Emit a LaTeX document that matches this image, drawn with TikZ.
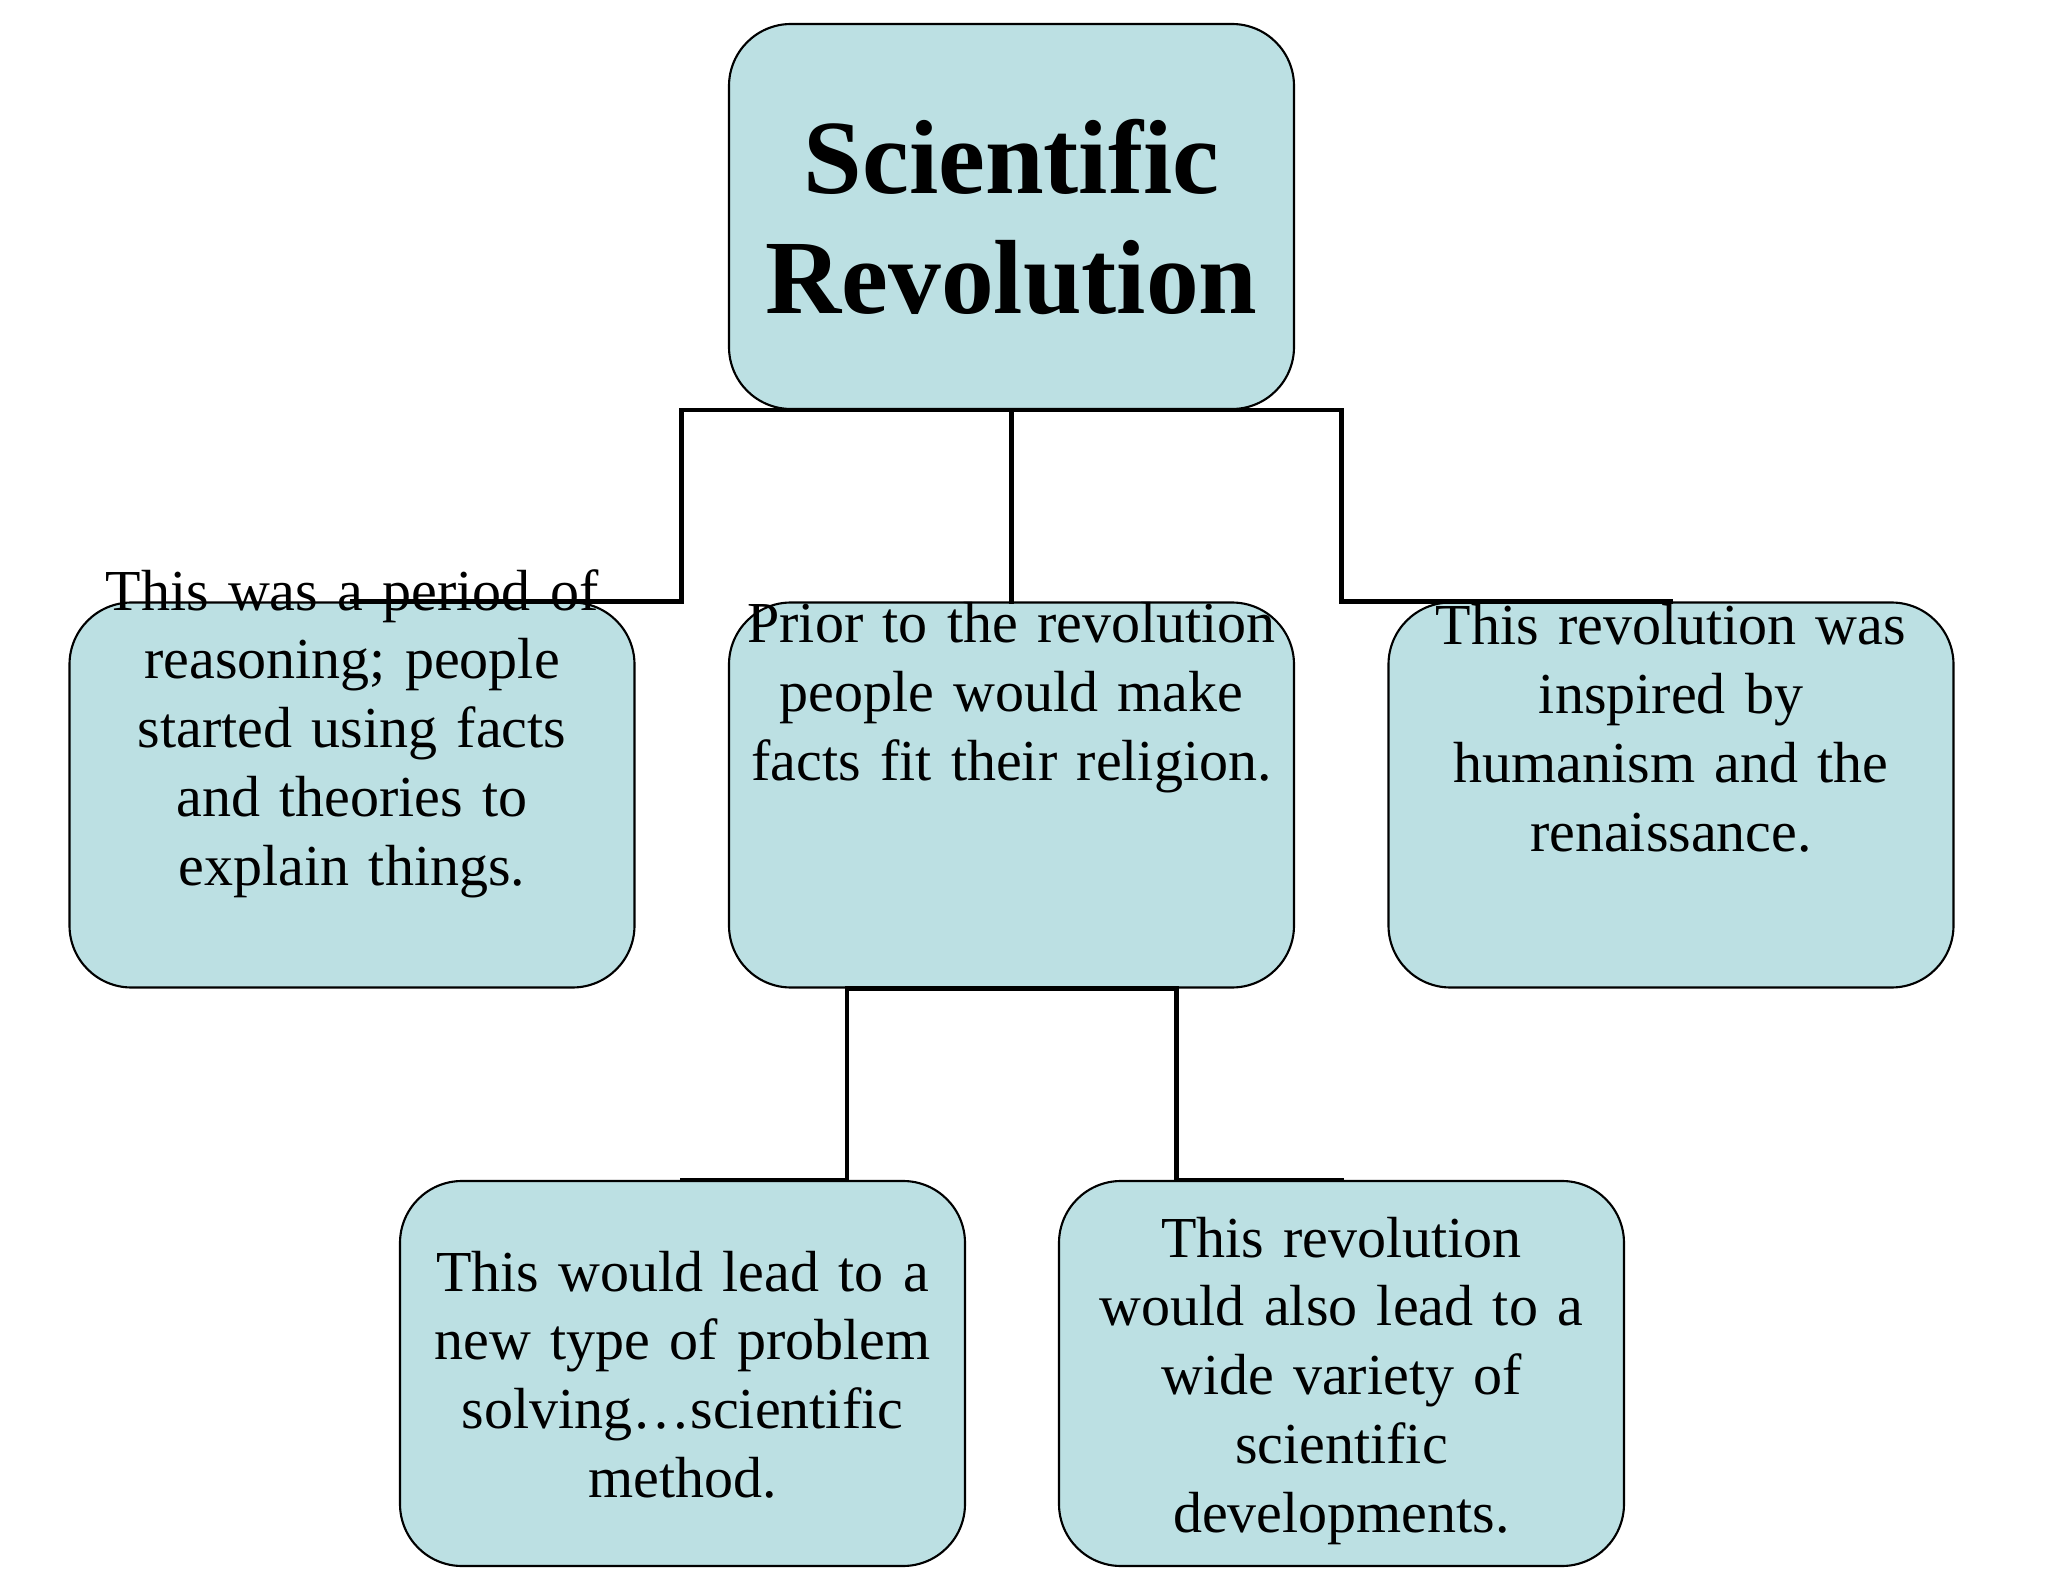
\documentclass[tikz,border=0pt]{standalone}
\usepackage{fontspec}
\setmainfont{Liberation Serif}
\usetikzlibrary{calc}
\definecolor{boxblue}{RGB}{188,224,227}

\begin{document}
\begin{tikzpicture}[
    box/.style={draw=black, line width=0.6pt, fill=boxblue, rounded corners=0.62cm,
                minimum width=5.65cm, minimum height=3.85cm, inner sep=0pt},
    txt/.style={text width=5.9cm, align=center, anchor=base, inner sep=0pt,
                font=\fontsize{16.5}{19.6}\selectfont},
    link/.style={line width=1.3pt, line cap=rect}
]
    \useasboundingbox (0,0) rectangle (20.48,-15.82);

    % les cases
    \node[box] (top) at (10.115,-2.165) {};
    \node[box] (left) at (3.52,-7.95) {};
    \node[box] (mid) at (10.115,-7.95) {};
    \node[box] (right) at (16.71,-7.95) {};
    \node[box] (bl) at (6.825,-13.735) {};
    \node[box] (br) at (13.415,-13.735) {};

    % liaisons du haut
    \coordinate (tl) at ($(left.north)!0.5!(mid.north)$);
    \coordinate (tr) at ($(mid.north)!0.5!(right.north)$);
    \draw[link] (left.north) -| (tl |- top.south) -- (tr |- top.south) |- (right.north);
    \draw[link] (top.south) -- (mid.north);

    % liaisons du bas
    \coordinate (ml) at ($(bl.north)!0.5!(mid.south)$);
    \coordinate (mr) at ($(mid.south)!0.5!(br.north)$);
    \draw[link] (bl.north) -| (ml |- mid.south) -- (mr |- mid.south) |- (br.north);

    % les textes
    \node[txt, font=\bfseries\fontsize{30}{34}\selectfont] (topT) at (10.115,-1.94) {Scientific\\Revolution};
    \node[txt] (leftT) at (3.52,-6.10) {This was a period of\\reasoning; people\\started using facts\\and theories to\\explain things.};
    \node[txt] (midT) at (10.115,-6.43) {Prior to the revolution\\people would make\\facts fit their religion.};
    \node[txt] (rightT) at (16.71,-6.45) {This revolution was\\inspired by\\humanism and the\\renaissance.};
    \node[txt] (blT) at (6.825,-12.91) {This would lead to a\\new type of problem\\solving\ldots scientific\\method.};
    \node[txt] (brT) at (13.415,-12.57) {This revolution\\would also lead to a\\wide variety of\\scientific\\developments.};
\end{tikzpicture}
\end{document}
